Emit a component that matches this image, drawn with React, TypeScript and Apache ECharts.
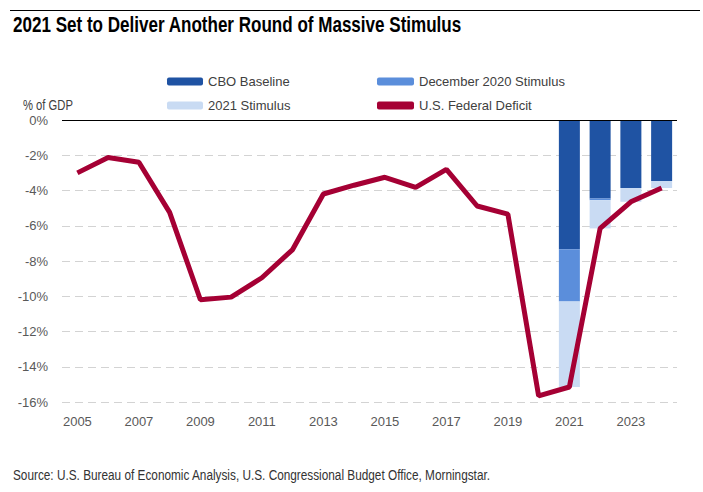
import React, { useEffect, useRef } from "react";
import * as echarts from "echarts";

const years = [
  "2005", "2006", "2007", "2008", "2009", "2010", "2011", "2012", "2013", "2014",
  "2015", "2016", "2017", "2018", "2019", "2020", "2021", "2022", "2023", "2024",
];

// Federal deficit, % of GDP
const federalDeficit = [
  -3.0, -2.13, -2.4, -5.24, -10.2, -10.05, -8.95, -7.35, -4.2, -3.7,
  -3.25, -3.82, -2.8, -4.88, -5.34, -15.65, -15.15, -6.15, -4.64, -3.86,
];

// Projected components, 2021-2024
const cboBaseline = [
  null, null, null, null, null, null, null, null, null, null,
  null, null, null, null, null, null, -7.33, -4.45, -3.86, -3.46,
];
const december2020Stimulus = [
  null, null, null, null, null, null, null, null, null, null,
  null, null, null, null, null, null, -2.97, -0.1, 0, 0,
];
const stimulus2021 = [
  null, null, null, null, null, null, null, null, null, null,
  null, null, null, null, null, null, -4.85, -1.6, -0.78, -0.4,
];

const yTicks = { min: -16, max: 0, interval: 2 };

const TITLE = "2021 Set to Deliver Another Round of Massive Stimulus";
const SOURCE = "Source: U.S. Bureau of Economic Analysis, U.S. Congressional Budget Office, Morningstar.";
const Y_NAME = "% of GDP";

const FONT = "'Liberation Sans', Arial, sans-serif";
const C_BASE = "#1F53A3";
const C_DEC = "#5B8EDB";
const C_2021 = "#C9DBF3";
const C_LINE = "#A50034";

// Horizontal squeeze that makes a string span a given width (condensed look)
function squeezeTo(text: string, font: string, width: number): number {
  const ctx = document.createElement("canvas").getContext("2d");
  if (!ctx) return 1;
  ctx.font = font;
  const w = ctx.measureText(text).width;
  return w > 0 ? width / w : 1;
}

export default function App() {
  const ref = useRef<HTMLDivElement>(null);

  useEffect(() => {
    if (!ref.current) return;
    const chart = echarts.init(ref.current, null, { renderer: "svg" });

    const legendText = { color: "#404040", fontSize: 13, fontFamily: FONT };

    const titleFont = `bold 22px ${FONT}`;
    const sourceFont = `15px ${FONT}`;
    const yNameFont = `14px ${FONT}`;

    chart.setOption({
      animation: false,
      backgroundColor: "#fff",
      graphic: [
        {
          type: "line",
          shape: { x1: 10, y1: 10.5, x2: 700, y2: 10.5 },
          style: { stroke: "#000", lineWidth: 1.2 },
        },
        {
          type: "text",
          x: 13,
          y: 24.5,
          scaleX: squeezeTo(TITLE, titleFont, 449),
          style: {
            text: TITLE,
            font: titleFont,
            fill: "#000",
            verticalAlign: "middle",
          },
        },
        {
          type: "text",
          x: 23,
          y: 105.5,
          scaleX: squeezeTo(Y_NAME, yNameFont, 50),
          style: { text: Y_NAME, font: yNameFont, fill: "#404040", verticalAlign: "middle" },
        },
        {
          type: "text",
          x: 13,
          y: 475,
          scaleX: squeezeTo(SOURCE, sourceFont, 478),
          style: { text: SOURCE, font: sourceFont, fill: "#333", verticalAlign: "middle" },
        },
      ],
      legend: [
        {
          orient: "vertical",
          left: 162,
          top: 70,
          itemWidth: 36,
          itemHeight: 8,
          itemGap: 11,
          textStyle: legendText,
          data: ["CBO Baseline", "2021 Stimulus"],
        },
        {
          orient: "vertical",
          left: 372,
          top: 70,
          itemWidth: 37,
          itemHeight: 8,
          itemGap: 11,
          textStyle: legendText,
          data: [
            "December 2020 Stimulus",
            { name: "U.S. Federal Deficit", icon: "roundRect" },
          ],
        },
      ],
      grid: { left: 62, right: 26, top: 120, bottom: 90, containLabel: false },
      xAxis: {
        type: "category",
        data: years,
        boundaryGap: true,
        axisLine: { show: false, onZero: false },
        axisTick: { show: false },
        axisLabel: {
          interval: 1,
          color: "#595959",
          fontSize: 13,
          fontFamily: FONT,
          margin: 13,
        },
      },
      yAxis: {
        type: "value",
        min: yTicks.min,
        max: yTicks.max,
        interval: yTicks.interval,
        axisLine: { show: false },
        axisTick: { show: false },
        axisLabel: {
          formatter: (v: number) => `${v}%`,
          color: "#595959",
          fontSize: 13,
          fontFamily: FONT,
          margin: 14,
        },
        splitLine: {
          lineStyle: { color: "#d3d3d3", type: [8, 5], width: 1 },
        },
      },
      series: [
        {
          name: "CBO Baseline",
          type: "bar",
          stack: "deficit",
          barWidth: 21,
          data: cboBaseline,
          itemStyle: { color: C_BASE },
          markLine: {
            silent: true,
            symbol: "none",
            label: { show: false },
            lineStyle: { color: "#000", type: "solid", width: 1.2 },
            data: [{ yAxis: 0 }],
          },
        },
        {
          name: "December 2020 Stimulus",
          type: "bar",
          stack: "deficit",
          barWidth: 21,
          data: december2020Stimulus,
          itemStyle: { color: C_DEC },
        },
        {
          name: "2021 Stimulus",
          type: "bar",
          stack: "deficit",
          barWidth: 21,
          data: stimulus2021,
          itemStyle: { color: C_2021 },
        },
        {
          name: "U.S. Federal Deficit",
          type: "line",
          data: federalDeficit,
          symbol: "none",
          z: 5,
          lineStyle: { color: C_LINE, width: 5 },
          itemStyle: { color: C_LINE },
        },
      ],
    });

    return () => chart.dispose();
  }, []);

  return <div ref={ref} style={{ width: 703, height: 492, position: "absolute", left: 0, top: 0 }} />;
}
